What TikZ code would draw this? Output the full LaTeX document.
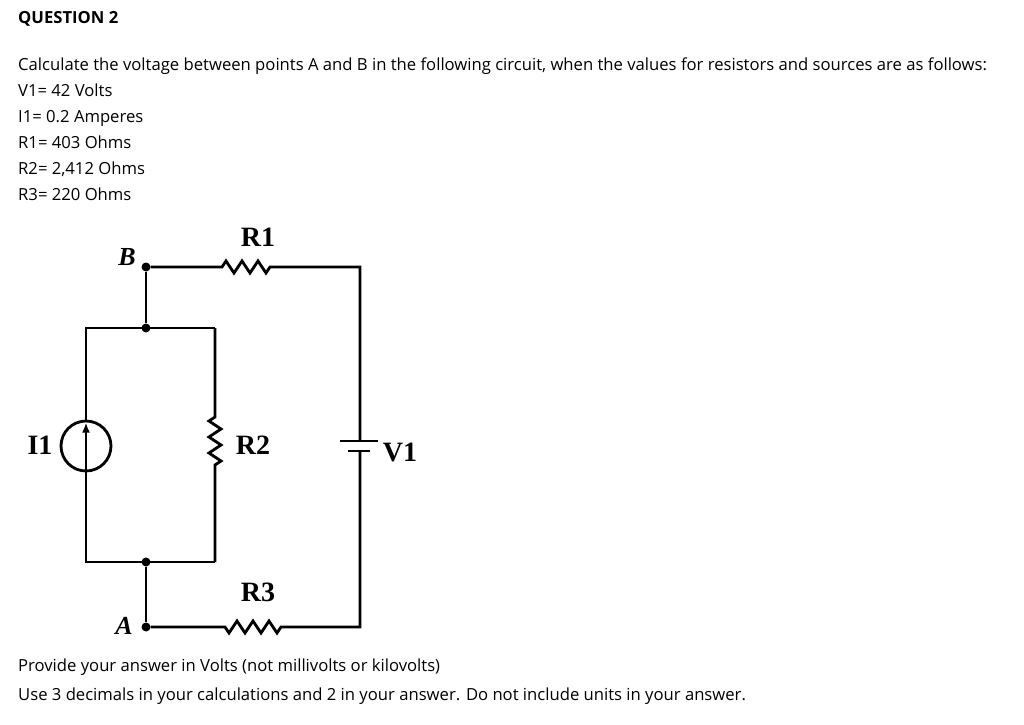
\documentclass[tikz,border=0pt]{standalone}
\usepackage{fontspec}
\usetikzlibrary{arrows.meta,calc}
\setmainfont{Open Sans}
\newfontfamily\serifb{Liberation Serif}
\begin{document}
\begin{tikzpicture}[x=1pt,y=-1pt,
  txt/.style={anchor=base west,inner sep=0,font=\fontsize{16.65}{18}\selectfont},
  lab/.style={inner sep=0,font=\serifb\bfseries\fontsize{28}{30}\selectfont},
  wire/.style={line width=2.8pt},
  dot/.style={circle,fill,inner sep=0,minimum size=9pt}]
\useasboundingbox (0,0) rectangle (1024,724);
\node[txt,font=\fontsize{16.65}{18}\selectfont\bfseries] (q) at (18,23) {QUESTION 2};
\node[txt] (t1) at (18,70) {Calculate the voltage between points A and B in the following circuit, when the values for resistors and sources are as follows:};
\node[txt] (t2) at (18,96) {V1= 42 Volts};
\node[txt] (t3) at (18,122) {I1= 0.2 Amperes};
\node[txt] (t4) at (18,148) {R1= 403 Ohms};
\node[txt] (t5) at (18,174) {R2= 2,412 Ohms};
\node[txt] (t6) at (18,200) {R3= 220 Ohms};
\node[txt] (t7) at (18,671) {Provide your answer in Volts (not millivolts or kilovolts)};
\node[txt] (t8) at (18,700) {Use 3 decimals in your calculations and 2 in your answer. Do not include units in your answer.};
% nodes
\node[dot] (B) at (146,267) {};
\node[dot] (T) at (146,328) {};
\node[dot] (D) at (146,562) {};
\node[dot] (A) at (146,627) {};
\coordinate (TL) at (86,328); \coordinate (TR) at (215,328);
\coordinate (DL) at (86,562); \coordinate (DR) at (215,562);
\coordinate (UR) at (360,267); \coordinate (LR) at (360,627);
\node[circle,draw,line width=2.8pt,minimum size=50pt,inner sep=0] (I1) at (86,446) {};
\draw[wire] (B) -- (T) (D) -- (A);
\draw[wire] (TR) -- (TL) -- (I1.north);
\draw[wire] (I1.south) -- (DL) -- (DR);
\draw[wire,-{Latex[length=10pt,width=8pt]}] (I1.south) -- ($(I1.north)+(0,3)$);
% R1
\draw[wire] (B) -- (222,267) -- ++(4,-6) -- ++(8,12) -- ++(8,-12) -- ++(8,12) -- ++(8,-12) -- ++(8,12) -- ++(4,-6) -- (UR) -- (360,441);
% battery
\draw[wire] (340,441) -- (378,441);
\draw[wire] (348,451) -- (370,451);
\draw[wire] (360,451) -- (LR) -- (281,627) -- ++(-4,6) -- ++(-8,-12) -- ++(-8,12) -- ++(-8,-12) -- ++(-8,12) -- ++(-8,-12) -- ++(-8,12) -- ++(-4,-6) -- (A);
% R2
\draw[wire] (TR) -- (215,417) -- ++(-6,4) -- ++(12,8) -- ++(-12,8) -- ++(12,8) -- ++(-12,8) -- ++(12,8) -- ++(-6,4) -- (DR);
\node[lab] (lR1) at (258,237) {R1};
\node[lab] (lR2) at (253,445) {R2};
\node[lab] (lR3) at (258,592) {R3};
\node[lab] (lV1) at (400,452) {V1};
\node[lab] (lI1) at (40,445) {I1};
\node[lab,font=\serifb\bfseries\itshape\fontsize{26}{28}\selectfont] (lB) at (127,257) {B};
\node[lab,font=\serifb\bfseries\itshape\fontsize{26}{28}\selectfont] (lA) at (124,626) {A};
\end{tikzpicture}
\end{document}
